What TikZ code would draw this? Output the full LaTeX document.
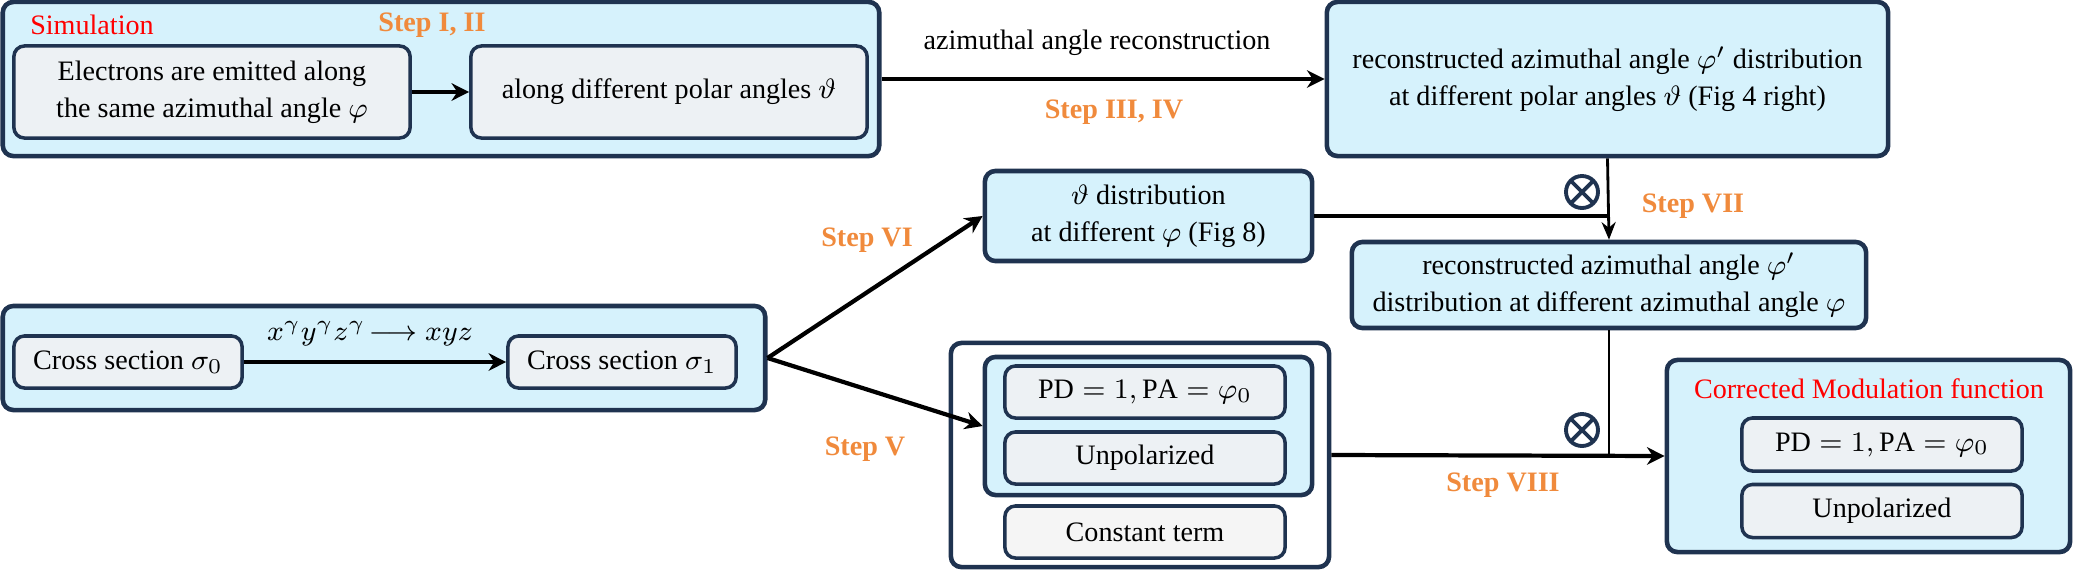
\documentclass[tikz,border=0pt]{standalone}
\usepackage{amsmath}
\usepackage{fontspec}
\setmainfont{Liberation Serif}
\usepackage{xcolor}
\usetikzlibrary{calc,arrows.meta}
\definecolor{navy}{HTML}{1F3350}
\definecolor{paleblue}{HTML}{D6F2FC}
\definecolor{palegrey}{HTML}{EDF1F4}
\definecolor{stepor}{HTML}{F08A3C}

\tikzset{
  box/.style={draw=navy, line width=1.3pt, rounded corners=3pt, align=center, inner sep=0pt, font=\fontsize{8}{10.5}\selectfont},
  bluebox/.style={box, fill=paleblue},
  greybox/.style={box, fill=palegrey, line width=1pt},
  steplabel/.style={text=stepor, font=\fontsize{8}{10}\selectfont\bfseries},
  redtitle/.style={text=red, font=\fontsize{8}{10}\selectfont},
  flow/.style={line width=1.2pt, -{Stealth[length=5pt,width=5pt]}},
  otimesnode/.style={circle, draw=navy, line width=1.1pt, minimum size=0.32cm, inner sep=0pt,
    path picture={\draw[navy, line width=1.1pt] (path picture bounding box.north west) -- (path picture bounding box.south east)
      (path picture bounding box.north east) -- (path picture bounding box.south west);}}
}

\begin{document}
\begin{tikzpicture}[x=0.01cm, y=-0.01cm]
  \useasboundingbox (0,0) rectangle (2074,569);
  % simulation block
  \node[bluebox, minimum width=8.76cm, minimum height=1.54cm] (sim) at (441,79) {};
  \node[redtitle] (simtitle) at (92,25) {Simulation};
  \node[steplabel] (stepA) at (432,25) {Step I, II};
  \node[greybox, minimum width=3.96cm, minimum height=0.92cm] (emit) at (212,92)
    {Electrons are emitted along\\the same azimuthal angle $\varphi$};
  \node[greybox, minimum width=3.96cm, minimum height=0.92cm] (polar) at (669,92)
    {along different polar angles $\vartheta$};
  \draw[flow] (emit) -- (polar);
  % reconstruction
  \node[bluebox, minimum width=5.61cm, minimum height=1.54cm] (recP) at (1607.5,79)
    {reconstructed azimuthal angle $\varphi'$ distribution\\at different polar angles $\vartheta$ (Fig 4 right)};
  \draw[flow] (sim.east) -- (recP.west);
  \node (reclabel) at (1097,43) {\fontsize{8}{10}\selectfont azimuthal angle reconstruction};
  \node[steplabel] (stepB) at (1114,112) {Step III, IV};
  % cross section block
  \node[bluebox, minimum width=7.62cm, minimum height=1.04cm] (cross) at (384,358) {};
  \node[greybox, minimum width=2.28cm, minimum height=0.52cm] (sig0) at (128,362) {Cross section $\sigma_0$};
  \node[greybox, minimum width=2.28cm, minimum height=0.52cm] (sig1) at (622,362) {Cross section $\sigma_1$};
  \draw[flow] (sig0) -- (sig1);
  \node (xyz) at (370,334) {\fontsize{8}{10}\selectfont $x^\gamma y^\gamma z^\gamma \!\longrightarrow xyz$};
  % theta distribution
  \node[bluebox, minimum width=3.27cm, minimum height=0.90cm] (theta) at (1148.5,216)
    {$\vartheta$ distribution\\at different $\varphi$ (Fig 8)};
  \node[bluebox, minimum width=5.14cm, minimum height=0.86cm] (recA) at (1609,285)
    {reconstructed azimuthal angle $\varphi'$\\distribution at different azimuthal angle $\varphi$};
  % modulation group
  \node[box, fill=white, minimum width=3.78cm, minimum height=2.24cm] (group) at (1140,455) {};
  \node[bluebox, minimum width=3.27cm, minimum height=1.38cm] (pol) at (1148.5,426) {};
  \node[greybox, minimum width=2.80cm, minimum height=0.52cm] (pdA) at (1145,392) {$\mathrm{PD}=1, \mathrm{PA}=\varphi_0$};
  \node[greybox, minimum width=2.80cm, minimum height=0.52cm] (unA) at (1145,458) {Unpolarized};
  \node[greybox, fill=gray!8, minimum width=2.80cm, minimum height=0.52cm] (const) at (1145,532) {Constant term};
  % corrected
  \node[bluebox, minimum width=4.03cm, minimum height=1.92cm] (corr) at (1868.5,456) {};
  \node[redtitle] (corrtitle) at (1869,389) {Corrected Modulation function};
  \node[greybox, minimum width=2.80cm, minimum height=0.53cm] (pdB) at (1882,444.5) {$\mathrm{PD}=1, \mathrm{PA}=\varphi_0$};
  \node[greybox, minimum width=2.80cm, minimum height=0.53cm] (unB) at (1882,511) {Unpolarized};
  % connectors
  \draw[flow] (cross.east) -- (theta.west);
  \draw[flow] (cross.east) -- (pol.west);
  \node[steplabel] (stepVI) at (867,240) {Step VI};
  \node[steplabel] (stepV) at (865,449) {Step V};
  \draw[line width=1.2pt] (theta.east) -- (theta.east -| recP.south);
  \draw[line width=0.8pt, -{Stealth[length=5pt,width=4pt]}] (recP.south) -- (recA.north);
  \node[otimesnode] (prodA) at (1582,192) {};
  \node[steplabel] (stepVII) at (1693,206) {Step VII};
  \draw[flow] (group.east) -- (corr.west);
  \draw[line width=0.8pt] (recA.south) -- (recA.south |- corr.west);
  \node[otimesnode] (prodB) at (1582,430) {};
  \node[steplabel] (stepVIII) at (1503,485) {Step VIII};
\end{tikzpicture}
\end{document}
